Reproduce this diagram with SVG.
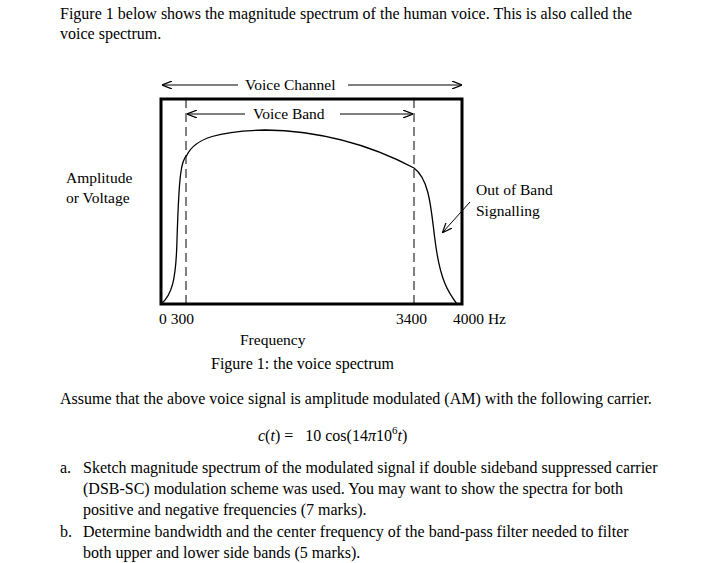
<svg xmlns="http://www.w3.org/2000/svg" width="703" height="563" viewBox="0 0 703 563">
<defs><marker id="ah" markerWidth="10" markerHeight="8" refX="9" refY="4" orient="auto-start-reverse" markerUnits="userSpaceOnUse"><path d="M0,0 L10,4 L0,8" fill="none" stroke="#000" stroke-width="1.2"/></marker></defs>
<style>text{font-family:"Liberation Serif",serif;fill:#000}.t{font-size:16px}.d{font-size:15.5px}.l{stroke:#000;fill:none}</style>
<rect width="703" height="563" fill="#fff"/>
<text class="t" x="60" y="19">Figure 1 below shows the magnitude spectrum of the human voice. This is also called the</text>
<text class="t" x="60" y="39">voice spectrum.</text>
<g id="box"><rect x="161" y="99" width="301" height="205" class="l" stroke-width="3"/></g>
<g id="connectors">
<line x1="186" y1="99" x2="186" y2="304" class="l" stroke-dasharray="9,5"/>
<line x1="414" y1="99" x2="414" y2="304" class="l" stroke-dasharray="9,5"/>
<line x1="163" y1="85" x2="238" y2="85" class="l" marker-start="url(#ah)"/>
<line x1="348" y1="85" x2="461" y2="85" class="l" marker-end="url(#ah)"/>
<line x1="188" y1="114" x2="245" y2="114" class="l" marker-start="url(#ah)"/>
<line x1="340" y1="114" x2="412" y2="114" class="l" marker-end="url(#ah)"/>
<path d="M161,304 C172,295 176,280 177,240 C179,175 181,160 187,155 C195,138 220,131 265,130 C330,131 380,150 414,168 C430,180 431,210 435,240 C440,280 448,292 457,304" class="l" stroke-width="1.3"/>
<line x1="470" y1="202" x2="443" y2="232" class="l" marker-end="url(#ah)"/>
</g>
<g id="labels">
<text class="d" x="245" y="90">Voice Channel</text>
<text class="d" x="253" y="119">Voice Band</text>
<text class="d" x="66" y="183">Amplitude</text>
<text class="d" x="66" y="203">or Voltage</text>
<text class="d" x="476" y="195">Out of Band</text>
<text class="d" x="476" y="216">Signalling</text>
<text class="d" x="159" y="324">0 300</text>
<text class="d" x="396" y="324">3400</text>
<text class="d" x="453" y="324">4000 Hz</text>
<text class="d" x="240" y="345">Frequency</text>
</g>
<text class="t" x="211" y="369">Figure 1: the voice spectrum</text>
<text class="t" x="60" y="404">Assume that the above voice signal is amplitude modulated (AM) with the following carrier.</text>
<text class="t" x="258" y="441"><tspan font-style="italic">c</tspan>(<tspan font-style="italic">t</tspan>) =&#160;&#160;&#160;10 cos(14<tspan font-style="italic">π</tspan>10<tspan font-size="11" dy="-7">6</tspan><tspan font-style="italic" dy="7">t</tspan>)</text>
<text class="t" x="60" y="473">a.</text>
<text class="t" x="83" y="473">Sketch magnitude spectrum of the modulated signal if double sideband suppressed carrier</text>
<text class="t" x="83" y="494">(DSB-SC) modulation scheme was used. You may want to show the spectra for both</text>
<text class="t" x="83" y="515">positive and negative frequencies (7 marks).</text>
<text class="t" x="60" y="537">b.</text>
<text class="t" x="83" y="537">Determine bandwidth and the center frequency of the band-pass filter needed to filter</text>
<text class="t" x="83" y="558">both upper and lower side bands (5 marks).</text>
</svg>
